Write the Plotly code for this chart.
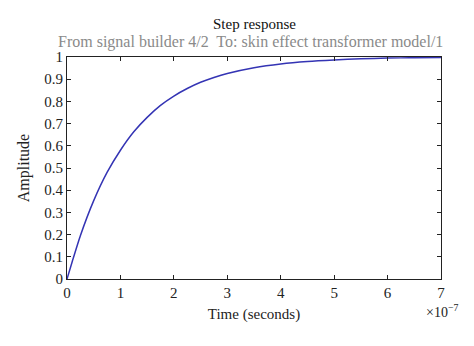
import plotly.graph_objects as go

# Step response samples (time in units of 1e-7 s)
time_e7 = [0.0, 0.1, 0.25, 0.5, 0.75, 1.0, 1.25, 1.5, 1.75, 2.0, 2.25, 2.5, 2.75,
           3.0, 3.5, 4.0, 4.5, 5.0, 5.5, 6.0, 6.5, 7.0]
amplitude = [0.0, 0.08, 0.195, 0.353, 0.48, 0.58, 0.663, 0.728, 0.782, 0.824, 0.858,
             0.886, 0.908, 0.926, 0.952, 0.969, 0.980, 0.987, 0.992, 0.995, 0.997, 0.998]

x_ticks = [0, 1, 2, 3, 4, 5, 6, 7]
y_ticks = [0, 0.1, 0.2, 0.3, 0.4, 0.5, 0.6, 0.7, 0.8, 0.9, 1]

FONT = "Liberation Serif"
TXT = "#222222"

fig = go.Figure()
fig.add_trace(go.Scatter(
    x=time_e7, y=amplitude, mode="lines",
    line=dict(color="#3434b4", width=1.5, shape="spline", smoothing=0.6),
    showlegend=False, hoverinfo="skip",
))

axis_common = dict(
    showline=True, linecolor="#222222", linewidth=1, mirror="ticks",
    ticks="inside", ticklen=4, tickcolor="#222222", tickwidth=1,
    showgrid=False, zeroline=False,
    tickfont=dict(family=FONT, size=15, color=TXT),
)

fig.update_layout(
    width=474, height=346,
    margin=dict(l=67, r=33, t=57, b=67),
    paper_bgcolor="white", plot_bgcolor="white",
    font=dict(family=FONT, color=TXT),
    xaxis=dict(range=[0, 7], tickvals=x_ticks, ticktext=[str(v) for v in x_ticks],
               title=dict(text="Time (seconds)", font=dict(family=FONT, size=15, color=TXT), standoff=8),
               **axis_common),
    yaxis=dict(range=[0, 1], tickvals=y_ticks, ticktext=[f"{v:g}" for v in y_ticks],
               title=dict(text="Amplitude", font=dict(family=FONT, size=16, color=TXT), standoff=10),
               **axis_common),
)

fig.add_annotation(text="Step response", xref="paper", yref="paper", x=0.5, y=1,
                   yshift=23, showarrow=False, yanchor="bottom",
                   font=dict(family=FONT, size=15, color="#111111"))
fig.add_annotation(text="From signal builder 4/2  To: skin effect transformer model/1",
                   xref="paper", yref="paper", x=0.49, y=1, yshift=4, showarrow=False,
                   yanchor="bottom", font=dict(family=FONT, size=16, color="#8a8a8a"))
fig.add_annotation(text="×10<sup>−7</sup>", xref="paper", yref="paper", x=1, y=0,
                   xanchor="center", yanchor="top", yshift=-21, xshift=1, showarrow=False,
                   font=dict(family=FONT, size=14, color=TXT))

fig.write_html("out.html")
